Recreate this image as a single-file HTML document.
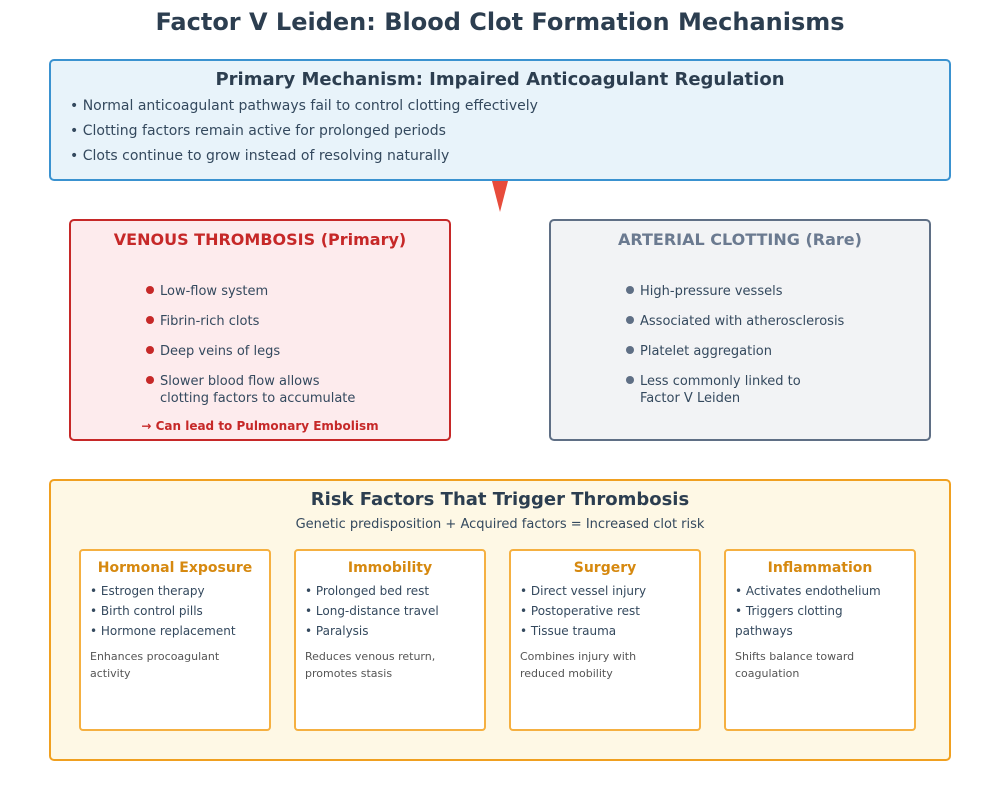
<!DOCTYPE html>
<html><head><meta charset="utf-8"><style>
body{margin:0;background:#fff}
svg{display:block;font-family:"DejaVu Sans","Liberation Sans",sans-serif}
</style></head><body>
<svg width="1000" height="800" viewBox="0 0 1000 800" xmlns="http://www.w3.org/2000/svg">
<text x="500" y="30" text-anchor="middle" font-size="24" font-weight="bold" fill="#2c3e50">Factor V Leiden: Blood Clot Formation Mechanisms</text>

<rect x="50" y="60" width="900" height="120" rx="4" fill="#e8f3fa" stroke="#3a92d0" stroke-width="2"/>
<text x="500" y="85" text-anchor="middle" font-size="18" font-weight="bold" fill="#2c3e50">Primary Mechanism: Impaired Anticoagulant Regulation</text>
<g font-size="14" fill="#34495e">
<text x="70" y="110">• Normal anticoagulant pathways fail to control clotting effectively</text>
<text x="70" y="135">• Clotting factors remain active for prolonged periods</text>
<text x="70" y="160">• Clots continue to grow instead of resolving naturally</text>
</g>
<polygon points="492,181 508,181 500,212" fill="#e74c3c"/>

<rect x="70" y="220" width="380" height="220" rx="4" fill="#fdebed" stroke="#c62828" stroke-width="2"/>
<text x="260" y="245" text-anchor="middle" font-size="16" font-weight="bold" fill="#c62828">VENOUS THROMBOSIS (Primary)</text>
<g fill="#c62828"><circle cx="150" cy="290" r="4"/><circle cx="150" cy="320" r="4"/><circle cx="150" cy="350" r="4"/><circle cx="150" cy="380" r="4"/></g>
<g font-size="13" fill="#34495e">
<text x="160" y="295">Low-flow system</text>
<text x="160" y="325">Fibrin-rich clots</text>
<text x="160" y="355">Deep veins of legs</text>
<text x="160" y="385">Slower blood flow allows</text>
<text x="160" y="402">clotting factors to accumulate</text>
</g>
<text x="260" y="430" text-anchor="middle" font-size="12" font-weight="bold" fill="#c62828">→ Can lead to Pulmonary Embolism</text>

<rect x="550" y="220" width="380" height="220" rx="4" fill="#f2f3f5" stroke="#5f6f85" stroke-width="2"/>
<text x="740" y="245" text-anchor="middle" font-size="16" font-weight="bold" fill="#6b7a90">ARTERIAL CLOTTING (Rare)</text>
<g fill="#5f6f85"><circle cx="630" cy="290" r="4"/><circle cx="630" cy="320" r="4"/><circle cx="630" cy="350" r="4"/><circle cx="630" cy="380" r="4"/></g>
<g font-size="13" fill="#34495e">
<text x="640" y="295">High-pressure vessels</text>
<text x="640" y="325">Associated with atherosclerosis</text>
<text x="640" y="355">Platelet aggregation</text>
<text x="640" y="385">Less commonly linked to</text>
<text x="640" y="402">Factor V Leiden</text>
</g>

<rect x="50" y="480" width="900" height="280" rx="4" fill="#fef8e5" stroke="#f0a020" stroke-width="2"/>
<text x="500" y="505" text-anchor="middle" font-size="18" font-weight="bold" fill="#2c3e50">Risk Factors That Trigger Thrombosis</text>
<text x="500" y="528" text-anchor="middle" font-size="13" fill="#34495e">Genetic predisposition + Acquired factors = Increased clot risk</text>

<g stroke="#f5b041" stroke-width="2" fill="#fff">
<rect x="80" y="550" width="190" height="180" rx="3"/>
<rect x="295" y="550" width="190" height="180" rx="3"/>
<rect x="510" y="550" width="190" height="180" rx="3"/>
<rect x="725" y="550" width="190" height="180" rx="3"/>
</g>
<g font-size="14" font-weight="bold" fill="#d68910" text-anchor="middle">
<text x="175" y="572">Hormonal Exposure</text>
<text x="390" y="572">Immobility</text>
<text x="605" y="572">Surgery</text>
<text x="820" y="572">Inflammation</text>
</g>
<g font-size="12" fill="#34495e">
<text x="90" y="595">• Estrogen therapy</text>
<text x="90" y="615">• Birth control pills</text>
<text x="90" y="635">• Hormone replacement</text>
<text x="305" y="595">• Prolonged bed rest</text>
<text x="305" y="615">• Long-distance travel</text>
<text x="305" y="635">• Paralysis</text>
<text x="520" y="595">• Direct vessel injury</text>
<text x="520" y="615">• Postoperative rest</text>
<text x="520" y="635">• Tissue trauma</text>
<text x="735" y="595">• Activates endothelium</text>
<text x="735" y="615">• Triggers clotting</text>
<text x="735" y="635">pathways</text>
</g>
<g font-size="11" fill="#555">
<text x="90" y="660">Enhances procoagulant</text>
<text x="90" y="677">activity</text>
<text x="305" y="660">Reduces venous return,</text>
<text x="305" y="677">promotes stasis</text>
<text x="520" y="660">Combines injury with</text>
<text x="520" y="677">reduced mobility</text>
<text x="735" y="660">Shifts balance toward</text>
<text x="735" y="677">coagulation</text>
</g>
</svg>
</body></html>
